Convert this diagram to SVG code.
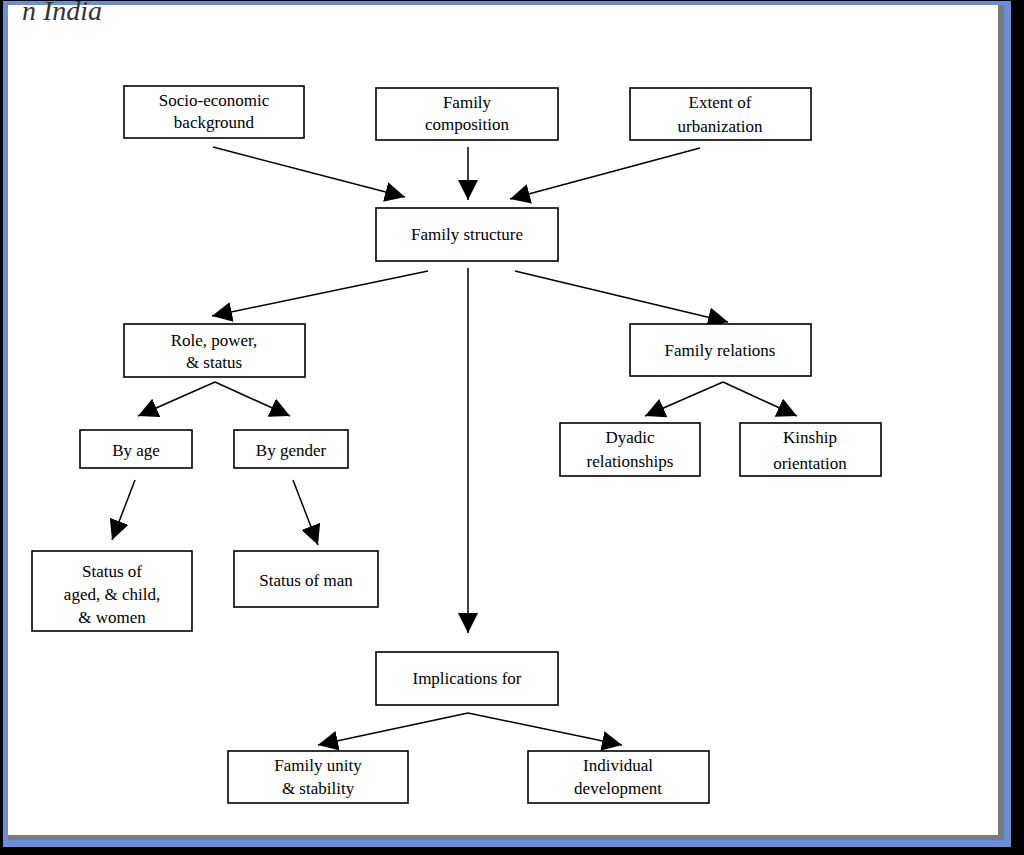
<svg xmlns="http://www.w3.org/2000/svg" width="1024" height="855" viewBox="0 0 1024 855">
<defs>
<style>
.b{fill:#fff;stroke:#000;stroke-width:1.6}
.t{font-family:"Liberation Serif",serif;font-size:17px;fill:#000;text-anchor:middle}
.c line{stroke:#000;stroke-width:1.5;marker-end:url(#a)}
</style>
<marker id="a" markerUnits="userSpaceOnUse" markerWidth="22" markerHeight="20" refX="20" refY="10" orient="auto"><path d="M0,0 L20,10 L0,20 Z" fill="#000"/></marker>
</defs>
<rect width="1024" height="855" fill="#000"/>
<rect x="3" y="1" width="1008" height="846" fill="#6a8fd6"/>
<rect x="8" y="5" width="996" height="835" fill="#7a7a7a"/>
<rect x="8" y="5" width="990" height="830" fill="#fff"/>
<text x="22" y="20" font-family="Liberation Serif,serif" font-style="italic" font-size="28" fill="#333">n India</text>
<g class="c">
<line x1="213" y1="147" x2="405" y2="197"/>
<line x1="468" y1="147" x2="468" y2="200"/>
<line x1="700" y1="148" x2="510" y2="199"/>
<line x1="428" y1="271" x2="212" y2="316"/>
<line x1="468" y1="268" x2="468" y2="633"/>
<line x1="515" y1="271" x2="728" y2="322"/>
<line x1="215" y1="382" x2="138" y2="416"/>
<line x1="215" y1="382" x2="290" y2="416"/>
<line x1="723" y1="382" x2="645" y2="416"/>
<line x1="723" y1="382" x2="797" y2="416"/>
<line x1="135" y1="480" x2="112" y2="540"/>
<line x1="293" y1="480" x2="318" y2="545"/>
<line x1="468" y1="713" x2="318" y2="745"/>
<line x1="468" y1="713" x2="622" y2="745"/>
</g>
<g id="n1"><rect class="b" x="124" y="86" width="180" height="52"/><text class="t" x="214" y="106">Socio-economic</text><text class="t" x="214" y="128">background</text></g>
<g id="n2"><rect class="b" x="376" y="88" width="182" height="52"/><text class="t" x="467" y="108">Family</text><text class="t" x="467" y="130">composition</text></g>
<g id="n3"><rect class="b" x="630" y="88" width="181" height="52"/><text class="t" x="720" y="108">Extent of</text><text class="t" x="720" y="132">urbanization</text></g>
<g id="n4"><rect class="b" x="376" y="208" width="182" height="53"/><text class="t" x="467" y="240">Family structure</text></g>
<g id="n5"><rect class="b" x="124" y="324" width="181" height="53"/><text class="t" x="214" y="346">Role, power,</text><text class="t" x="214" y="368">&amp; status</text></g>
<g id="n6"><rect class="b" x="630" y="324" width="181" height="52"/><text class="t" x="720" y="356">Family relations</text></g>
<g id="n7"><rect class="b" x="80" y="430" width="112" height="38"/><text class="t" x="136" y="456">By age</text></g>
<g id="n8"><rect class="b" x="234" y="430" width="114" height="38"/><text class="t" x="291" y="456">By gender</text></g>
<g id="n9"><rect class="b" x="560" y="423" width="140" height="53"/><text class="t" x="630" y="443">Dyadic</text><text class="t" x="630" y="467">relationships</text></g>
<g id="n10"><rect class="b" x="740" y="423" width="141" height="53"/><text class="t" x="810" y="443">Kinship</text><text class="t" x="810" y="469">orientation</text></g>
<g id="n11"><rect class="b" x="32" y="551" width="160" height="80"/><text class="t" x="112" y="577">Status of</text><text class="t" x="112" y="600">aged, &amp; child,</text><text class="t" x="112" y="623">&amp; women</text></g>
<g id="n12"><rect class="b" x="234" y="551" width="144" height="56"/><text class="t" x="306" y="586">Status of man</text></g>
<g id="n13"><rect class="b" x="376" y="652" width="182" height="53"/><text class="t" x="467" y="684">Implications for</text></g>
<g id="n14"><rect class="b" x="228" y="751" width="180" height="52"/><text class="t" x="318" y="771">Family unity</text><text class="t" x="318" y="794">&amp; stability</text></g>
<g id="n15"><rect class="b" x="528" y="751" width="181" height="52"/><text class="t" x="618" y="771">Individual</text><text class="t" x="618" y="794">development</text></g>
</svg>
